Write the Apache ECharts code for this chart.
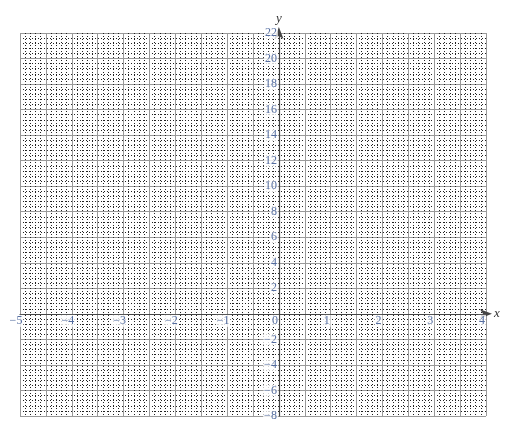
<!DOCTYPE html>
<html><head><meta charset="utf-8">
<script src="https://cdn.jsdelivr.net/npm/echarts@6/dist/echarts.min.js"></script>
<style>html,body{margin:0;background:#fff}#main{width:507px;height:428px}</style>
</head><body><div id="main"></div>
<script>
// 坐标范围
var xRange = [-5, 4];
var yRange = [-8, 22];
var xStep = 0.5, yStep = 2;
// 刻度标签
var xTickValues = [-5, -4, -3, -2, -1, 0, 1, 2, 3, 4];
var yTickValues = [-8, -6, -4, -2, 2, 4, 6, 8, 10, 12, 14, 16, 18, 20, 22];

function txt(v) { return v < 0 ? '\u2212' + (-v) : String(v); }

var myChart = echarts.init(document.getElementById('main'));
var labelStyle = {color: '#2b4a8a', fontFamily: 'Liberation Serif', fontSize: 12};
function axisCfg(range, step, name) {
    return {
        type: 'value', min: range[0], max: range[1], interval: step,
        name: name, nameGap: 8,
        nameTextStyle: {fontFamily: 'Liberation Serif', fontStyle: 'italic', fontSize: 13, color: '#333'},
        axisLine: {onZero: true, symbol: ['none', 'arrow'], symbolSize: [7, 12], symbolOffset: [0, 6], lineStyle: {color: '#444', width: 1.2}},
        axisTick: {show: false},
        axisLabel: {show: false},
        splitLine: {show: true, lineStyle: {color: '#999', width: 1}},
        minorTick: {show: false, splitNumber: 5},
        minorSplitLine: {show: true, lineStyle: {color: '#222', type: [1, 2], width: 1}}
    };
}
var option = {
    animation: false,
    grid: {left: 20, right: 21, top: 33, bottom: 12},
    xAxis: axisCfg(xRange, xStep, 'x'),
    yAxis: axisCfg(yRange, yStep, 'y'),
    series: [{
        type: 'scatter', symbolSize: 0, silent: true,
        data: xTickValues.map(function (v) { return [v, 0]; }),
        label: Object.assign({show: true, position: 'bottom', distance: 1, offset: [-4, 0],
            backgroundColor: '#fff', padding: [0, 1],
            formatter: function (p) { return txt(p.value[0]); }}, labelStyle)
    }, {
        type: 'scatter', symbolSize: 0, silent: true,
        data: yTickValues.map(function (v) { return [0, v]; }),
        label: Object.assign({show: true, position: 'left', distance: 1,
            backgroundColor: '#fff', padding: [0, 1],
            formatter: function (p) { return txt(p.value[1]); }}, labelStyle)
    }]
};
myChart.setOption(option);
</script></body></html>
